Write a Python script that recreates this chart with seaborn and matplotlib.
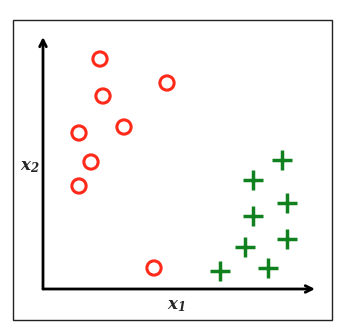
import matplotlib
matplotlib.use("Agg")
import matplotlib.pyplot as plt
import seaborn as sns
import pandas as pd
from matplotlib.patches import Rectangle

# data (arbitrary units)
circle_x = [5.7, 12.4, 6.0, 8.1, 3.6, 4.8, 3.6, 11.1]
circle_y = [23.0, 20.6, 19.3, 16.2, 15.6, 12.7, 10.3, 2.1]
plus_x = [23.9, 21.0, 24.4, 21.0, 24.4, 20.2, 22.5, 17.7]
plus_y = [12.9, 10.9, 8.6, 7.3, 5.0, 4.2, 2.1, 1.8]

sns.set_style("white")
plt.rcParams['mathtext.fontset'] = 'custom'
plt.rcParams['mathtext.it'] = 'DejaVu Serif:italic:bold'
plt.rcParams['mathtext.rm'] = 'DejaVu Serif:italic:bold'

W, H = 354, 334
fig = plt.figure(figsize=(W / 100, H / 100), dpi=100)
fig.patch.set_facecolor('white')

# outer frame
fig.patches.append(Rectangle((12.5 / W, 1 - 320 / H), (332 - 12.5) / W, 300 / H,
                             transform=fig.transFigure, fill=False,
                             edgecolor='#222222', linewidth=1.0))

ax = fig.add_axes([43 / W, (H - 289) / H, 272 / W, 252 / H])
ax.set_xlim(0, 27.2)
ax.set_ylim(0, 25.2)
for s in ax.spines.values():
    s.set_visible(False)
ax.set_xticks([])
ax.set_yticks([])
ax.patch.set_alpha(0)

df_c = pd.DataFrame({'x1': circle_x, 'x2': circle_y})
df_p = pd.DataFrame({'x1': plus_x, 'x2': plus_y})

sns.scatterplot(data=df_c, x='x1', y='x2', marker='o', s=105,
                facecolor='none', edgecolor='#ff2a1a', linewidth=2.2, ax=ax, zorder=3)
sns.scatterplot(data=df_p, x='x1', y='x2', marker='+', s=195,
                color='#11801e', linewidth=2.5, ax=ax, zorder=3)
ax.set_xlabel('')
ax.set_ylabel('')

# arrows for axes
arrow = dict(arrowstyle='->', color='black', lw=2.0, mutation_scale=12,
             shrinkA=0, shrinkB=0)
ax.annotate('', xy=(1, 0), xytext=(0, 0), xycoords='axes fraction',
            textcoords='axes fraction', arrowprops=arrow, annotation_clip=False)
ax.annotate('', xy=(0, 1), xytext=(0, 0), xycoords='axes fraction',
            textcoords='axes fraction', arrowprops=arrow, annotation_clip=False)

fig.text(176 / W, 1 - 305 / H, r'$x_1$', fontsize=12, ha='center', va='center')
fig.text(30 / W, 1 - 166 / H, r'$x_2$', fontsize=12, ha='center', va='center')

fig.savefig('out.png', dpi=100, facecolor='white')
